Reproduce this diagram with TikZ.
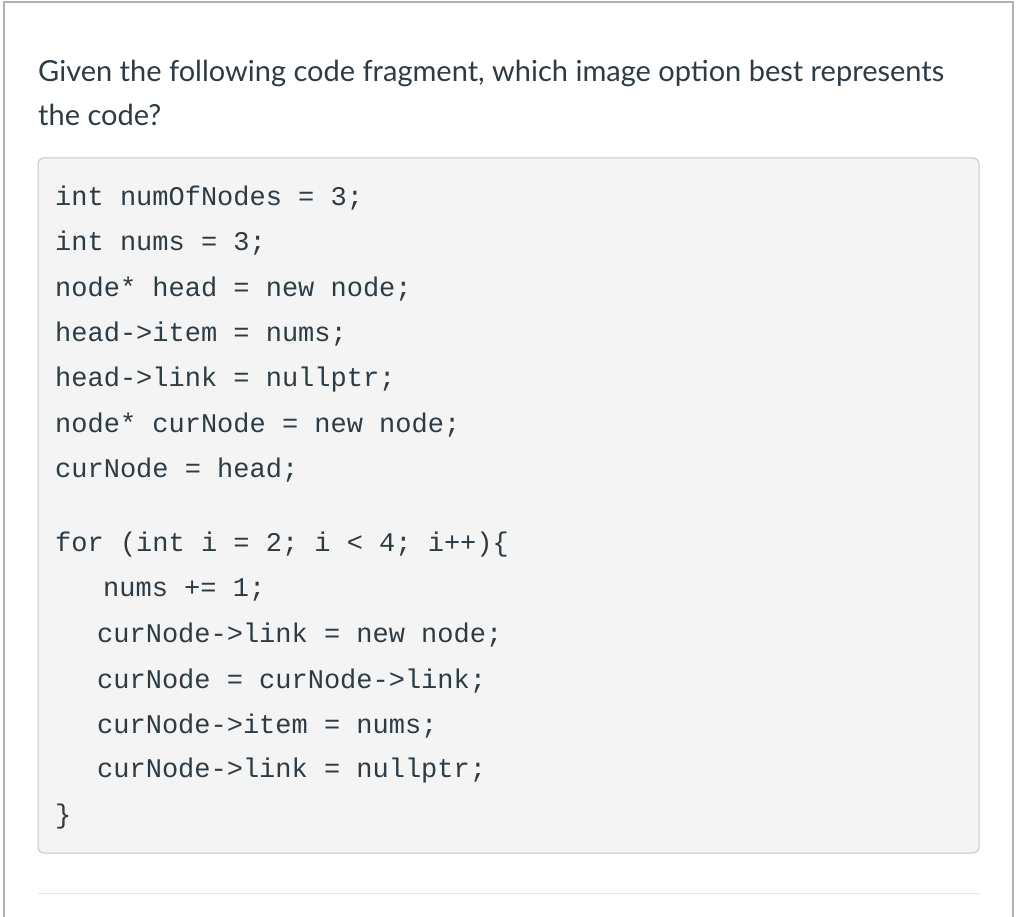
\documentclass[tikz,border=0pt]{standalone}
\usepackage{fontspec}
\setmainfont{Lato}
\newfontfamily\codefont{Liberation Mono}
\definecolor{txt}{HTML}{2D3B45}
\begin{document}
\begin{tikzpicture}[x=1pt,y=-1pt,
  q/.style={anchor=west,font=\fontsize{29}{34}\selectfont,text=txt,inner sep=0pt},
  cl/.style={anchor=west,font=\codefont\fontsize{27}{32}\selectfont,text=txt,inner sep=0pt}]
\useasboundingbox (0,0) rectangle (1024,917);
\draw[gray!60,line width=1.2pt] (4,917) -- (4,2) -- (1013,2) -- (1013,917);
\node[q] (t1) at (38,73) {Given the following code fragment, which image option best represents};
\node[q] (t2) at (38,115) {the code?};
\draw[fill={rgb,255:red,244;green,244;blue,244},draw=gray!45,rounded corners=6pt,line width=1pt] (38,158) rectangle (979,853);
\node[cl] (c1) at (55,198) {int numOfNodes = 3;};
\node[cl] (c2) at (55,243) {int nums = 3;};
\node[cl] (c3) at (55,289) {node* head = new node;};
\node[cl] (c4) at (55,334) {head->item = nums;};
\node[cl] (c5) at (55,380) {head->link = nullptr;};
\node[cl] (c6) at (55,425) {node* curNode = new node;};
\node[cl] (c7) at (55,470) {curNode = head;};
\node[cl] (c8) at (55,545) {for (int i = 2; i < 4; i++)\{};
\node[cl] (c9) at (103,590) {nums += 1;};
\node[cl] (c10) at (97,635) {curNode->link = new node;};
\node[cl] (c11) at (97,681) {curNode = curNode->link;};
\node[cl] (c12) at (97,726) {curNode->item = nums;};
\node[cl] (c13) at (97,771) {curNode->link = nullptr;};
\node[cl] (c14) at (55,817) {\}};
\draw[gray!20,line width=1pt] (38,893) -- (979,893);
\end{tikzpicture}
\end{document}
